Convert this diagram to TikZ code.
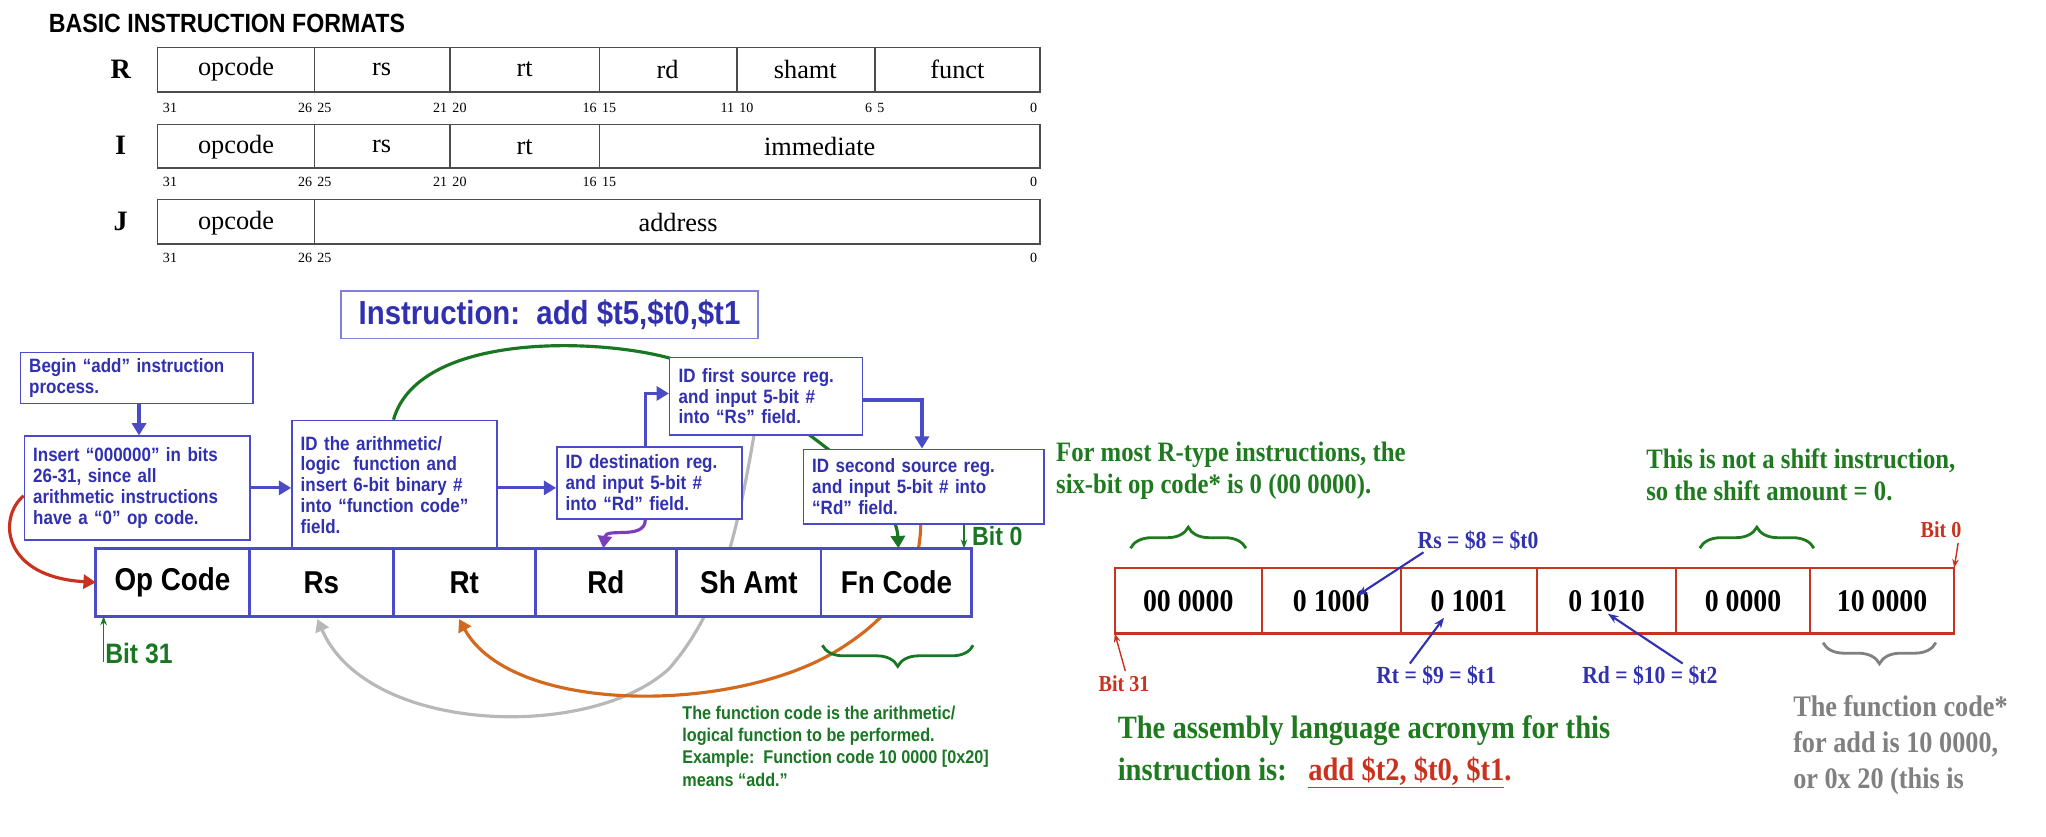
\documentclass[tikz,border=0pt]{standalone}
\usepackage{fontspec}
\setmainfont{Liberation Serif}
\newfontfamily\hs[FakeStretch=0.88]{Liberation Sans}
\newfontfamily\ts[FakeStretch=0.88]{Liberation Serif}
\newfontfamily\tm{Liberation Serif}
\usetikzlibrary{arrows.meta,decorations.pathreplacing}
\definecolor{bbord}{HTML}{4B4BC8}
\definecolor{btxt}{HTML}{3030B0}
\definecolor{gr}{HTML}{1E8C2A}
\definecolor{dgr}{HTML}{1F7A1F}
\definecolor{rd}{HTML}{C8321E}
\definecolor{org}{HTML}{D2691E}
\definecolor{pur}{HTML}{7B3FB8}
\definecolor{gry}{HTML}{B8B8B8}
\tikzset{
 fmt/.style={draw=black!70,line width=0.8pt},
 fmttxt/.style={font=\tm\fontsize{15}{17}\selectfont},
 bitn/.style={font=\tm\fontsize{8}{9}\selectfont,inner sep=0pt},
 rowl/.style={font=\tm\bfseries\fontsize{16}{18}\selectfont},
 mbox/.style={draw=bbord,line width=0.9pt,fill=white,text=btxt,align=left,anchor=north west,
   font=\hs\bfseries\fontsize{11}{11.8}\selectfont,inner xsep=5pt,inner ysep=3pt},
 cellb/.style={draw=bbord,line width=1.6pt,fill=white,minimum height=52*0.02626cm,anchor=west,outer sep=0pt,
   font=\hs\bfseries\fontsize{18}{20}\selectfont},
 cellr/.style={draw=rd,line width=1.3pt,fill=white,minimum height=50*0.02626cm,anchor=west,outer sep=0pt,
   font=\ts\bfseries\fontsize{18}{20}\selectfont},
 barr/.style={draw=bbord,line width=1.8pt,-{Triangle[length=7pt,width=8pt]}},
 carr/.style={line width=1.8pt,-{Triangle[length=7pt,width=8pt]}},
 gtxt/.style={text=dgr,font=\ts\bfseries\fontsize{16}{18}\selectfont,align=left,anchor=north west,inner sep=0pt},
 btl/.style={text=btxt,font=\ts\bfseries\fontsize{14}{16}\selectfont,inner sep=1pt},
 larr/.style={draw=btxt,line width=1.2pt,-{Stealth[length=6pt]}},
}
\begin{document}
\begin{tikzpicture}[x=0.02626cm,y=-0.02626cm]
\useasboundingbox[fill=white] (0,0) rectangle (1560,638);
% ---------- top formats ----------
\node[anchor=west,font=\hs\bfseries\fontsize{15}{17}\selectfont,inner sep=0pt] (title) at (37,18) {BASIC INSTRUCTION FORMATS};
\node[rowl] (lR) at (92,53) {R};
\node[rowl] (lI) at (92,111) {I};
\node[rowl] (lJ) at (92,169) {J};
\draw[fmt] (120,36) rectangle (793,70);
\foreach \x in {240,343,457,562,667} \draw[fmt] (\x,36) -- (\x,70);
\draw[fmt] (120,95) rectangle (793,128);
\foreach \x in {240,343,457} \draw[fmt] (\x,95) -- (\x,128);
\draw[fmt] (120,152) rectangle (793,186);
\draw[fmt] (240,152) -- (240,186);
\node[fmttxt] (r1) at (180,53) {opcode};
\node[fmttxt] (r2) at (291,53) {rs};
\node[fmttxt] (r3) at (400,53) {rt};
\node[fmttxt] (r4) at (509,53) {rd};
\node[fmttxt] (r5) at (614,53) {shamt};
\node[fmttxt] (r6) at (730,53) {funct};
\node[fmttxt] (i1) at (180,112) {opcode};
\node[fmttxt] (i2) at (291,112) {rs};
\node[fmttxt] (i3) at (400,112) {rt};
\node[fmttxt] (i4) at (625,112) {immediate};
\node[fmttxt] (j1) at (180,170) {opcode};
\node[fmttxt] (j2) at (517,170) {address};
\foreach \y/\n in {82/a,139/b,197/c}{
  \node[bitn,anchor=west] (b31\n) at (124,\y) {31};
  \node[bitn] (b26\n) at (240,\y) {26\hspace{3pt}25};
  \node[bitn,anchor=east] (b0\n) at (791,\y) {0};
}
\foreach \y/\n in {82/a,139/b}{
  \node[bitn] (b21\n) at (343,\y) {21\hspace{3pt}20};
  \node[bitn] (b16\n) at (457,\y) {16\hspace{3pt}15};
}
\node[bitn] (b11) at (562,82) {11\hspace{3pt}10};
\node[bitn] (b6) at (667,82) {6\hspace{3pt}5};
% ---------- instruction header ----------
\node[draw=bbord!70,line width=0.9pt,text=btxt,font=\hs\bfseries\fontsize{19}{21}\selectfont,minimum width=318*0.02626cm,minimum height=36*0.02626cm] (instr) at (419,240) {Instruction:\ \ add \$t5,\$t0,\$t1};
% ---------- curves behind boxes ----------
\coordinate (gA) at (300,320);
\coordinate (gB) at (520,276);
\coordinate (gC) at (685,418);
\draw[draw=gr!85!black,line width=1.8pt,-{Triangle[length=7pt,width=8pt]}] (gA) .. controls (320,250) and (470,258) .. (gB) .. controls (580,300) and (683,370) .. (gC);
\coordinate (yA) at (575,331);
\coordinate (yB) at (510,510);
\coordinate (yC) at (242,472);
\draw[draw=gry,carr] (yA) .. controls (560,420) and (545,470) .. (yB) .. controls (450,565) and (280,560) .. (yC);
\coordinate (oA) at (702,399);
\coordinate (oB) at (640,495);
\coordinate (oC) at (350,472);
\draw[draw=org,carr] (oA) .. controls (702,440) and (680,470) .. (oB) .. controls (560,545) and (390,545) .. (oC);
% ---------- process boxes ----------
\node[mbox,text width=4.30cm,minimum width=177*0.02626cm,minimum height=39*0.02626cm] (begin) at (15,268) {Begin “add” instruction\\process.};
\node[mbox,text width=4.17cm,minimum width=172*0.02626cm,minimum height=79*0.02626cm] (ins) at (18,332) {Insert “000000” in bits\\26-31, since all\\arithmetic instructions\\have a “0” op code.};
\node[mbox,text width=3.75cm,minimum width=156*0.02626cm,minimum height=98*0.02626cm] (idar) at (222,320) {ID the arithmetic/\\logic\ \ function and\\insert 6-bit binary \#\\into “function code”\\field.};
\node[mbox,text width=3.35cm,minimum width=141*0.02626cm,minimum height=55*0.02626cm] (iddest) at (424,340) {ID destination reg.\\and input 5-bit \#\\into “Rd” field.};
\node[mbox,text width=3.50cm,minimum width=147*0.02626cm,minimum height=59*0.02626cm] (idfirst) at (510,272) {ID first source reg.\\and input 5-bit \#\\into “Rs” field.};
\node[mbox,text width=4.46cm,minimum width=183*0.02626cm,minimum height=57*0.02626cm] (idsec) at (612,342) {ID second source reg.\\and input 5-bit \# into\\“Rd” field.};
% ---------- blue table ----------
\node[cellb,minimum width=117*0.02626cm] (c1) at (73,444) {Op Code};
\node[cellb,minimum width=110*0.02626cm] (c2) at (c1.east) {Rs};
\node[cellb,minimum width=108*0.02626cm] (c3) at (c2.east) {Rt};
\node[cellb,minimum width=108*0.02626cm] (c4) at (c3.east) {Rd};
\node[cellb,minimum width=110*0.02626cm] (c5) at (c4.east) {Sh Amt};
\node[cellb,minimum width=115*0.02626cm] (c6) at (c5.east) {Fn Code};
% ---------- arrows ----------
\draw[barr] (begin.south -| 106,0) -- (106,332);
\draw[barr] (ins.east |- 0,372) -- (idar.west |- 0,372);
\draw[barr] (idar.east |- 0,372) -- (iddest.west |- 0,372);
\draw[barr] (iddest.north -| 492,0) |- (idfirst.west |- 0,300);
\draw[barr] (idfirst.east |- 0,305) -| (idsec.north -| 703,0);
\draw[draw=rd,carr] (ins.west |- 0,378) .. controls (-2,395) and (2,440) .. (c1.west);
\draw[draw=pur,carr] (iddest.south -| 492,0) .. controls (492,412) and (462,402) .. (c4.north -| 460,0);
\coordinate (bit0a) at (735,400);
\draw[draw=gr!85!black,line width=1.2pt,-{Stealth[length=5pt]}] (bit0a) -- (c6.north -| 735,0);
\node[text=gr!85!black,font=\hs\bfseries\fontsize{15}{17}\selectfont,anchor=west,inner sep=0pt] (bit0l) at (741,409) {Bit 0};
\coordinate (bit31a) at (79,505);
\draw[draw=gr!85!black,line width=1pt,-{Stealth[length=5pt]}] (bit31a) -- (c1.south -| 79,0);
\node[text=gr!85!black,font=\hs\bfseries\fontsize{16}{18}\selectfont,anchor=west,inner sep=0pt] (bit31l) at (80,498) {Bit 31};
\draw[draw=gr!85!black,line width=1.6pt,decorate,decoration={brace,mirror,amplitude=12pt}] (627,492) -- (742,492);
\node[text=gr!85!black,font=\hs\bfseries\fontsize{10.5}{12.7}\selectfont,align=left,anchor=north west,inner sep=0pt] (fnnote) at (520,538) {The function code is the arithmetic/\\logical function to be performed.\\Example:\ \ Function code 10 0000 [0x20]\\means “add.”};
% ---------- right section ----------
\node[gtxt] (note1) at (805,337) {For most R-type instructions, the\\six-bit op code* is 0 (00 0000).};
\node[gtxt] (note2) at (1255,342) {This is not a shift instruction,\\so the shift amount = 0.};
\draw[draw=dgr,line width=1.6pt,decorate,decoration={brace,amplitude=12pt}] (862,418) -- (950,418);
\draw[draw=dgr,line width=1.6pt,decorate,decoration={brace,amplitude=12pt}] (1296,418) -- (1383,418);
\node[cellr,minimum width=112*0.02626cm] (d1) at (850,458) {00 0000};
\node[cellr,minimum width=106*0.02626cm] (d2) at (d1.east) {0 1000};
\node[cellr,minimum width=104*0.02626cm] (d3) at (d2.east) {0 1001};
\node[cellr,minimum width=106*0.02626cm] (d4) at (d3.east) {0 1010};
\node[cellr,minimum width=102*0.02626cm] (d5) at (d4.east) {0 0000};
\node[cellr,minimum width=110*0.02626cm] (d6) at (d5.east) {10 0000};
\node[btl] (rs) at (1127,412) {Rs = \$8 = \$t0};
\node[btl] (rt) at (1095,515) {Rt = \$9 = \$t1};
\node[btl] (rdl) at (1258,515) {Rd = \$10 = \$t2};
\draw[larr] (rs.south west) ++(6,0) -- (1035,454);
\draw[larr] (rt.north) ++(-20,0) -- (1101,471);
\draw[larr] (rdl.north) ++(25,0) -- (1226,468);
\node[text=rd,font=\ts\bfseries\fontsize{13}{15}\selectfont,inner sep=0pt] (rb0) at (1480,404) {Bit 0};
\draw[draw=rd,line width=0.8pt,-{Stealth[length=5pt]}] (1493,414) -- (d6.north east);
\node[text=rd,font=\ts\bfseries\fontsize{13}{15}\selectfont,inner sep=0pt] (rb31) at (857,521) {Bit 31};
\draw[draw=rd,line width=0.8pt,-{Stealth[length=5pt]}] (rb31.north -| 858,0) ++(0,-3) -- (d1.south west);
\draw[draw=gray,line width=1.6pt,decorate,decoration={brace,mirror,amplitude=12pt}] (1390,490) -- (1476,490);
\node[gtxt,font=\ts\bfseries\fontsize{18.5}{24}\selectfont] (asm) at (852,545) {The assembly language acronym for this\\instruction is:\ \ \ \textcolor{rd}{\underline{add \$t2, \$t0, \$t1}.}};
\node[gtxt,text=gray,font=\ts\bfseries\fontsize{17}{20.5}\selectfont] (fnc) at (1367,530) {The function code*\\for add is 10 0000,\\or 0x 20 (this is};
\end{tikzpicture}
\end{document}
